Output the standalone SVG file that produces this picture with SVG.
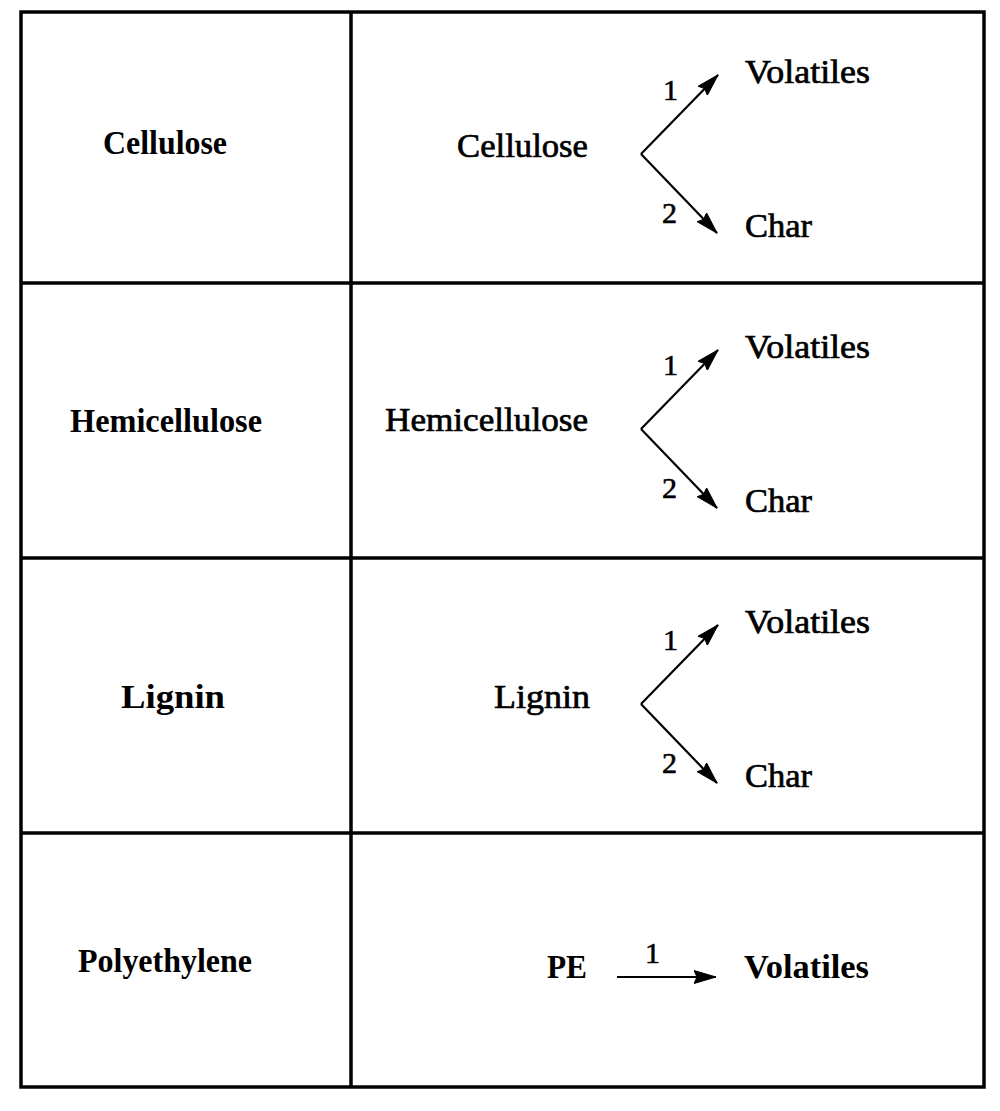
<svg xmlns="http://www.w3.org/2000/svg" width="1000" height="1111" viewBox="0 0 1000 1111">
<style>
.grid{fill:none;stroke:#000;stroke-width:3.5}
.b{font-family:"Liberation Serif","Times New Roman",serif;font-weight:bold;font-size:34px;fill:#000}
.r{font-family:"Liberation Serif","Times New Roman",serif;font-size:34px;fill:#000;stroke:#000;stroke-width:0.7}
.n{font-family:"Liberation Serif","Times New Roman",serif;font-size:30px;fill:#000;stroke:#000;stroke-width:0.6}
.arr{fill:none;stroke:#000;stroke-width:2.2;marker-end:url(#ah)}
</style>
<defs>
<marker id="ah" markerUnits="userSpaceOnUse" markerWidth="26" markerHeight="16" refX="22" refY="7" orient="auto">
<path d="M0,0.5 L22,7 L0,13.5 L3,7 Z" fill="#000" stroke="#000" stroke-width="1" stroke-linejoin="round"/>
</marker>
</defs>
<rect width="1000" height="1111" fill="#fff"/>
<g id="table">
<rect class="grid" x="21" y="12" width="963" height="1075"/>
<line class="grid" x1="351" y1="12" x2="351" y2="1087"/>
<line class="grid" x1="21" y1="283" x2="984" y2="283"/>
<line class="grid" x1="21" y1="558" x2="984" y2="558"/>
<line class="grid" x1="21" y1="833" x2="984" y2="833"/>
</g>
<g id="cellulose-label"><text class="b" x="103" y="154" textLength="124" lengthAdjust="spacingAndGlyphs">Cellulose</text></g>
<g id="hemicellulose-label"><text class="b" x="70" y="432" textLength="192" lengthAdjust="spacingAndGlyphs">Hemicellulose</text></g>
<g id="lignin-label"><text class="b" x="121" y="708" textLength="104" lengthAdjust="spacingAndGlyphs">Lignin</text></g>
<g id="polyethylene-label"><text class="b" x="78" y="972" textLength="174" lengthAdjust="spacingAndGlyphs">Polyethylene</text></g>
<g id="row1">
<text class="r" x="457" y="157" textLength="131" lengthAdjust="spacingAndGlyphs">Cellulose</text>
<text class="r" x="745" y="83" textLength="125" lengthAdjust="spacingAndGlyphs">Volatiles</text>
<text class="r" x="745" y="237" textLength="67" lengthAdjust="spacingAndGlyphs">Char</text>
<text class="n" x="663" y="100">1</text>
<text class="n" x="662" y="223">2</text>
</g>
<g id="row2" transform="translate(0,275)">
<text class="r" x="385" y="156" textLength="203" lengthAdjust="spacingAndGlyphs">Hemicellulose</text>
<text class="r" x="745" y="83" textLength="125" lengthAdjust="spacingAndGlyphs">Volatiles</text>
<text class="r" x="745" y="237" textLength="67" lengthAdjust="spacingAndGlyphs">Char</text>
<text class="n" x="663" y="100">1</text>
<text class="n" x="662" y="223">2</text>
</g>
<g id="row3" transform="translate(0,550)">
<text class="r" x="494" y="158" textLength="96" lengthAdjust="spacingAndGlyphs">Lignin</text>
<text class="r" x="745" y="83" textLength="125" lengthAdjust="spacingAndGlyphs">Volatiles</text>
<text class="r" x="745" y="237" textLength="67" lengthAdjust="spacingAndGlyphs">Char</text>
<text class="n" x="663" y="100">1</text>
<text class="n" x="662" y="223">2</text>
</g>
<g id="row4">
<text class="b" x="547" y="978" textLength="40" lengthAdjust="spacingAndGlyphs">PE</text>
<text class="b" x="744" y="978" textLength="125" lengthAdjust="spacingAndGlyphs">Volatiles</text>
<text class="n" x="645" y="963">1</text>
</g>
<g id="connectors">
<path class="arr" d="M641,154 L718,75"/>
<path class="arr" d="M641,154 L717,233"/>
<path class="arr" d="M641,429 L718,350"/>
<path class="arr" d="M641,429 L717,508"/>
<path class="arr" d="M641,704 L718,625"/>
<path class="arr" d="M641,704 L717,783"/>
<path class="arr" d="M617,977 L716,977"/>
</g>
</svg>
